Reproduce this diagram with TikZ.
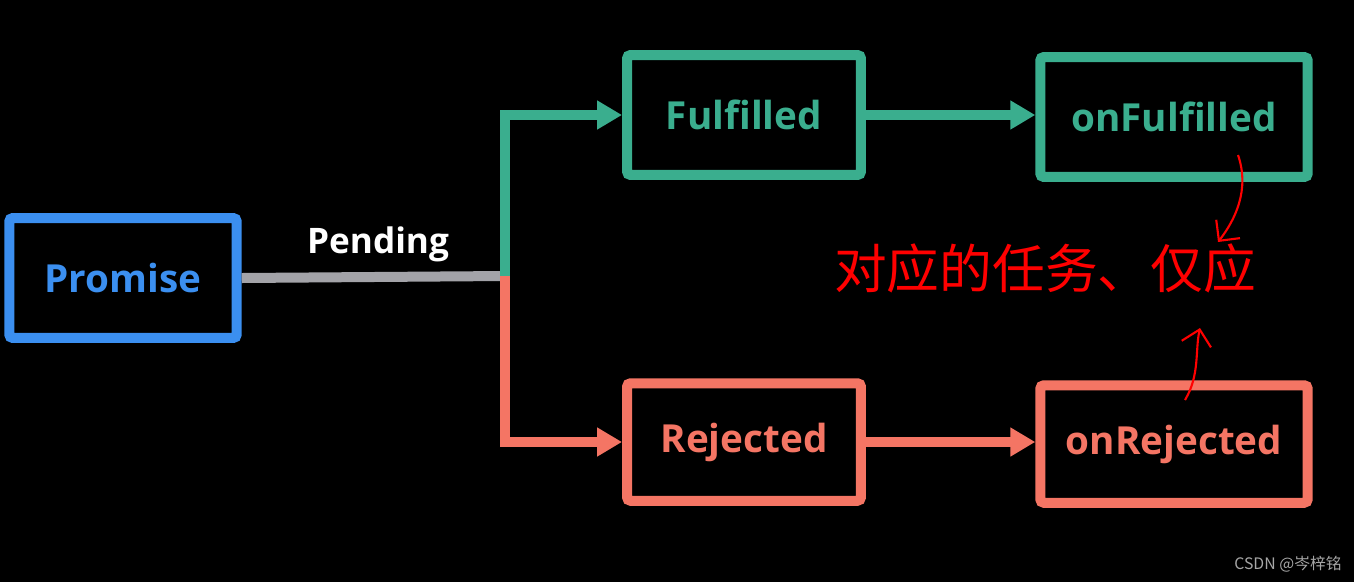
\documentclass[tikz,border=0pt]{standalone}
\usepackage{fontspec}
\setmainfont{Open Sans}[BoldFont={Open Sans Bold}]
\newfontfamily\cjk{Noto Sans CJK SC}
\usetikzlibrary{arrows.meta}
\definecolor{cblue}{HTML}{3B8FF0}
\definecolor{cgreen}{HTML}{3AAE8E}
\definecolor{cred}{HTML}{F47564}
\definecolor{cgray}{HTML}{A3A3A8}
\begin{document}
\begin{tikzpicture}[x=0.02cm,y=-0.02cm,
  box/.style={draw, line width=0.2cm, rounded corners=2pt, font=\bfseries\fontsize{22}{26}\selectfont},
  conn/.style={line width=0.2cm, -{Triangle[length=0.5cm,width=0.55cm]}},
  hand/.style={red, line width=1.2pt, -{Straight Barb[length=0.3cm,width=0.6cm]}}]
\fill[black] (0,0) rectangle (1354,582);
\useasboundingbox (0,0) rectangle (1354,582);
\node[box, cblue, minimum width=4.55cm, minimum height=2.4cm] (p) at (123,278) {Promise};
\node[box, cgreen, minimum width=4.68cm, minimum height=2.4cm] (f) at (744,115) {Fulfilled};
\node[box, cgreen, minimum width=5.35cm, minimum height=2.4cm] (of) at (1174,117) {onFulfilled};
\node[box, cred, minimum width=4.68cm, minimum height=2.35cm] (r) at (744,442) {Rejected};
\node[box, cred, minimum width=5.35cm, minimum height=2.35cm] (or) at (1174,444) {onRejected};
\coordinate (j) at (505,276);
\draw[cgray, line width=0.2cm] (p.east) -- (j);
\node[white, font=\bfseries\fontsize{20}{24}\selectfont] (pl) at (378,244) {Pending};
\draw[cgreen, conn] (j) |- (f.west);
\draw[cred, conn] (j) |- (r.west);
\draw[cgreen, conn] (f.east) -- (f.east -| of.west);
\draw[cred, conn] (r.east) -- (r.east -| or.west);
\node[red, font=\cjk\fontsize{30}{34}\selectfont] (hw) at (1045,268) {对应的任务、仅应};
\coordinate (a1) at (1238,155);
\coordinate (a2) at (1218,242);
\coordinate (b1) at (1185,400);
\coordinate (b2) at (1200,328);
\draw[hand] (a1) .. controls (1250,190) and (1235,220) .. (a2);
\draw[hand] (b1) .. controls (1200,375) and (1195,350) .. (b2);
\node[gray!70, font=\cjk\fontsize{9}{11}\selectfont] (wm) at (1288,564) {CSDN @岑梓铭};
\end{tikzpicture}
\end{document}
